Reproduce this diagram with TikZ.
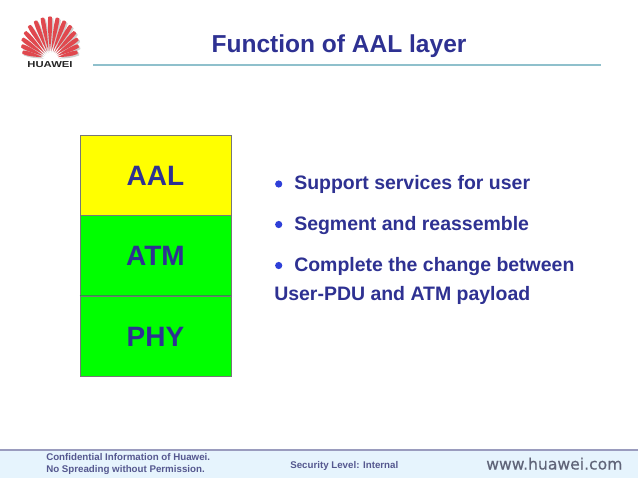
\documentclass[tikz,border=0pt]{standalone}
\usepackage{fontspec}
\setmainfont{Liberation Sans}
\newfontfamily\webfont[FakeBold=0.4]{DejaVu Sans}
\definecolor{navy}{HTML}{2E3192}
\definecolor{bul}{HTML}{2E3FD8}
\definecolor{foot}{HTML}{E6F4FD}
\definecolor{footline}{HTML}{9A9CBE}
\definecolor{rule}{HTML}{8FC0CC}
\definecolor{petal}{HTML}{E0484E}
\definecolor{petalshade}{HTML}{D0D0D0}
\definecolor{webgray}{HTML}{5F6478}
\definecolor{footnavy}{HTML}{55588F}
\definecolor{layeryellow}{HTML}{FFFF00}
\definecolor{layergreen}{HTML}{00FF00}
\definecolor{boxline}{HTML}{777777}
\definecolor{divider}{HTML}{2A9A40}
\tikzset{
  layerbox/.style={draw=boxline,line width=0.7pt,minimum width=113.25pt,minimum height=60.4pt,inner sep=0pt,font=\bfseries\fontsize{21}{21}\selectfont,text=navy},
  bodytext/.style={anchor=base west,inner sep=0pt,text=navy,font=\bfseries\fontsize{14.6}{14.6}\selectfont},
  bulletdot/.style={circle,fill=bul,inner sep=0pt,minimum size=5.4pt},
  foottext/.style={anchor=base west,inner sep=0pt,text=footnavy,font=\bfseries\fontsize{7.3}{7.3}\selectfont}
}
\newcommand{\fanpetal}[3]{% angle, length, colour
  \fill[#3,rotate around={#1:(50,59)}] (50,51) .. controls (48.6,59-0.5*#2) and (47.2,59-0.8*#2) .. (48.2,59-#2)
     .. controls (49,58.2-#2) and (51,58.2-#2) .. (51.8,59-#2)
     .. controls (52.8,59-0.8*#2) and (51.4,59-0.5*#2) .. (50,51) -- cycle;
}
\begin{document}
\begin{tikzpicture}[x=0.75pt,y=-0.75pt]
\useasboundingbox (0,0) rectangle (638,478);
\fill[white] (0,0) rectangle (638,478);
% logo
\begin{scope}[shift={(1.5,1.5)}]
\foreach \a/\l in {-76/28,-65/31,-54/34,-43/36.5,-32/39,-21/40.5,-10.5/41.5,0/42,10.5/41.5,21/40.5,32/39,43/36.5,54/34,65/31,76/28}{\fanpetal{\a}{\l}{petalshade}}
\end{scope}
\foreach \a/\l in {-76/28,-65/31,-54/34,-43/36.5,-32/39,-21/40.5,-10.5/41.5,0/42,10.5/41.5,21/40.5,32/39,43/36.5,54/34,65/31,76/28}{\fanpetal{\a}{\l}{petal}}
\node[inner sep=0pt,xscale=1.3,transform shape,font=\bfseries\fontsize{6.5}{6.5}\selectfont,text=black!85] (logo) at (50,64.5) {HUAWEI};
% title
\node[inner sep=0pt,anchor=base,text=navy,font=\bfseries\fontsize{18.4}{18.4}\selectfont] (title) at (339,53) {Function of AAL layer};
\coordinate (ruleL) at (93,65);
\coordinate (ruleR) at (601,65);
\draw[rule,line width=1.4pt] (ruleL) -- (ruleR);
% stack
\node[layerbox,fill=layeryellow] (aal) at (155.5,175.5) {AAL};
\node[layerbox,fill=layergreen] (atm) at (155.5,256) {\raisebox{-0.7pt}{ATM}};
\node[layerbox,fill=layergreen] (phy) at (155.5,336.5) {PHY};
\draw[divider,line width=0.8pt] (phy.north west) -- (phy.north east);
% bullets
\node[bulletdot] (b1) at (278.7,184) {};
\node[bulletdot] (b2) at (278.7,224.5) {};
\node[bulletdot] (b3) at (278.7,265.5) {};
\node[bodytext] (t1) at (294,189) {Support services for user};
\node[bodytext] (t2) at (294,230) {Segment and reassemble};
\node[bodytext] (t3) at (294,271) {Complete the change between};
\node[bodytext] (t4) at (274,300) {User-PDU and ATM payload};
% footer
\fill[foot] (0,450) rectangle (638,478);
\coordinate (footL) at (0,450);
\coordinate (footR) at (638,450);
\draw[footline,line width=1.5pt] (footL) -- (footR);
\node[foottext] (f1) at (46,460.8) {Confidential Information of Huawei.};
\node[foottext] (f2) at (46,472.8) {No Spreading without Permission.};
\node[foottext] (f3) at (290,468) {Security Level: Internal};
\node[anchor=base west,inner sep=0pt,text=webgray,font=\webfont\fontsize{11.7}{11.7}\selectfont] (web) at (486,469.5) {www.huawei.com};
\end{tikzpicture}
\end{document}
